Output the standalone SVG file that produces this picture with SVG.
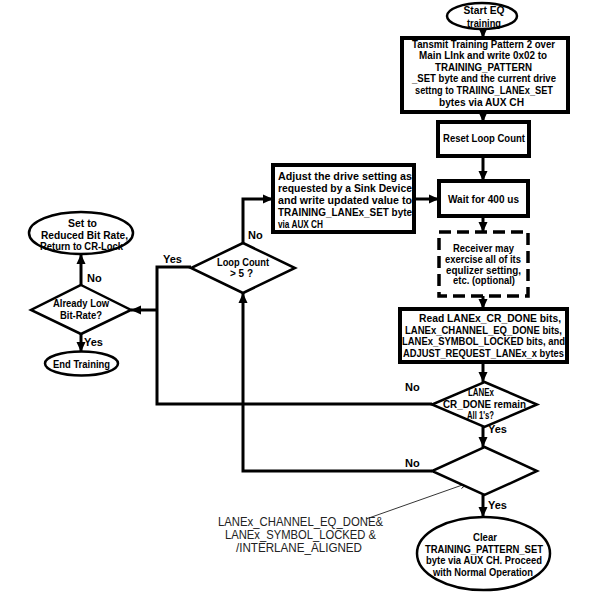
<svg xmlns="http://www.w3.org/2000/svg" width="597" height="596" viewBox="0 0 597 596">
<style>
.b{font-family:"Liberation Sans",Arial,sans-serif;font-weight:bold;font-size:11px;text-anchor:middle;fill:#000}
.l{font-family:"Liberation Sans",Arial,sans-serif;font-weight:bold;font-size:11px;fill:#000}
.n{font-family:"Liberation Sans",Arial,sans-serif;font-size:12px;text-anchor:middle;fill:#222}
.box{fill:#fff;stroke:#000;stroke-width:4}
.dash{fill:#fff;stroke:#000;stroke-width:3.5;stroke-dasharray:12 6}
.sh{fill:#fff;stroke:#000;stroke-width:2.5}
.c{fill:none;stroke:#000;stroke-width:3}
.t{fill:none;stroke:#000;stroke-width:0.8}
</style>
<defs>
<marker id="ah" markerUnits="userSpaceOnUse" markerWidth="10" markerHeight="10" viewBox="0 0 10 10" refX="10" refY="5" orient="auto">
<path d="M0,0.5 L10,5 L0,9.5 Z" fill="#000"/>
</marker>
<marker id="oa" markerUnits="userSpaceOnUse" markerWidth="8" markerHeight="8" viewBox="0 0 8 8" refX="8" refY="4" orient="auto">
<path d="M0,1 L8,4 L0,7" fill="none" stroke="#000" stroke-width="0.8"/>
</marker>
</defs>
<rect width="597" height="596" fill="#fff"/>

<g id="connectors">
<path class="c" d="M483,29 V38" marker-end="url(#ah)"/>
<path class="c" d="M483,112 V122" marker-end="url(#ah)"/>
<path class="c" d="M483,156 V181" marker-end="url(#ah)"/>
<path class="c" d="M483,216 V232" marker-end="url(#ah)"/>
<path class="c" d="M483,296 V309" marker-end="url(#ah)"/>
<path class="c" d="M483,362 V382" marker-end="url(#ah)"/>
<path class="c" d="M483,427 V447" marker-end="url(#ah)"/>
<path class="c" d="M483,495 V517" marker-end="url(#ah)"/>
<path class="c" d="M432,404 H157 V310"/>
<path class="c" d="M191,267 H157 V310"/>
<path class="c" d="M157,310 H131" marker-end="url(#ah)"/>
<path class="c" d="M432,471 H243 V293" marker-end="url(#ah)"/>
<path class="c" d="M243,243 V199 H273" marker-end="url(#ah)"/>
<path class="c" d="M414,199 H439" marker-end="url(#ah)"/>
<path class="c" d="M81,285 V254" marker-end="url(#ah)"/>
<path class="c" d="M81,334 V352" marker-end="url(#ah)"/>
<path class="t" d="M366,519 L468,483" marker-end="url(#oa)"/>
<text class="l" x="87" y="282">No</text>
<text class="l" x="84" y="346">Yes</text>
<text class="l" x="163" y="263">Yes</text>
<text class="l" x="248" y="239">No</text>
<text class="l" x="405" y="391">No</text>
<text class="l" x="488" y="433">Yes</text>
<text class="l" x="405" y="467">No</text>
<text class="l" x="488" y="509">Yes</text>
</g>

<g id="start">
<ellipse class="sh" cx="482" cy="16" rx="35" ry="13"/>
<text class="b" x="484" y="14" textLength="41" lengthAdjust="spacingAndGlyphs">Start EQ</text>
<text class="b" x="484" y="27" textLength="34" lengthAdjust="spacingAndGlyphs">training</text>
</g>

<g id="transmit">
<rect class="box" x="402" y="38" width="166" height="74"/>
<text class="b" x="483.5" y="47.5" textLength="143" lengthAdjust="spacingAndGlyphs">Tansmit Training Pattern 2 over</text>
<text class="b" x="483" y="59" textLength="128" lengthAdjust="spacingAndGlyphs">Main LInk and write 0x02 to</text>
<text class="b" x="483.5" y="70.5" textLength="97" lengthAdjust="spacingAndGlyphs">TRAINING_PATTERN</text>
<text class="b" x="484" y="82" textLength="144" lengthAdjust="spacingAndGlyphs">_SET byte and the current drive</text>
<text class="b" x="484" y="94" textLength="138" lengthAdjust="spacingAndGlyphs">settng to TRAIING_LANEx_SET</text>
<text class="b" x="481.5" y="106" textLength="85" lengthAdjust="spacingAndGlyphs">bytes via AUX CH</text>
</g>

<g id="reset">
<rect class="box" x="438" y="122" width="91" height="34"/>
<text class="b" x="484" y="142" textLength="82" lengthAdjust="spacingAndGlyphs">Reset Loop Count</text>
</g>

<g id="wait">
<rect class="box" x="439" y="181" width="89" height="35"/>
<text class="b" x="483.5" y="203" textLength="71" lengthAdjust="spacingAndGlyphs">Wait for 400 us</text>
</g>

<g id="receiver">
<rect class="dash" x="439" y="232" width="89" height="64"/>
<text class="b" x="483.5" y="252" textLength="61" lengthAdjust="spacingAndGlyphs">Receiver may</text>
<text class="b" x="483" y="262.5" textLength="76" lengthAdjust="spacingAndGlyphs">exercise all of its</text>
<text class="b" x="483.5" y="273.5" textLength="75" lengthAdjust="spacingAndGlyphs">equlizer setting,</text>
<text class="b" x="484" y="284" textLength="62" lengthAdjust="spacingAndGlyphs">etc. (optional)</text>
</g>

<g id="read">
<rect class="box" x="400" y="309" width="167" height="53"/>
<text class="b" x="490" y="322" textLength="142" lengthAdjust="spacingAndGlyphs">Read LANEx_CR_DONE bits,</text>
<text class="b" x="483.5" y="333.5" textLength="157" lengthAdjust="spacingAndGlyphs">LANEx_CHANNEL_EQ_DONE bits,</text>
<text class="b" x="483.5" y="345" textLength="163" lengthAdjust="spacingAndGlyphs">LANEx_SYMBOL_LOCKED bits, and</text>
<text class="b" x="483.5" y="356.5" textLength="161" lengthAdjust="spacingAndGlyphs">ADJUST_REQUEST_LANEx_x bytes</text>
</g>

<g id="crdone">
<polygon class="sh" points="484.5,382 537,404.5 484.5,427 432,404.5"/>
<text class="b" x="481" y="396" textLength="26" lengthAdjust="spacingAndGlyphs">LANEx</text>
<text class="b" x="484.5" y="407.5" textLength="83" lengthAdjust="spacingAndGlyphs">CR_DONE remain</text>
<text class="b" x="480.5" y="419" textLength="27" lengthAdjust="spacingAndGlyphs">All 1's?</text>
</g>

<g id="eqdone">
<polygon class="sh" points="484.5,447 537,471 484.5,495 432,471"/>
</g>

<g id="clear">
<ellipse class="sh" cx="483.5" cy="553.5" rx="66.5" ry="36.5"/>
<text class="b" x="485" y="541" textLength="24" lengthAdjust="spacingAndGlyphs">Clear</text>
<text class="b" x="484" y="552.5" textLength="118" lengthAdjust="spacingAndGlyphs">TRAINING_PATTERN_SET</text>
<text class="b" x="484" y="564" textLength="116" lengthAdjust="spacingAndGlyphs">byte via AUX CH. Proceed</text>
<text class="b" x="483" y="575.5" textLength="100" lengthAdjust="spacingAndGlyphs">with Normal Operation</text>
</g>

<g id="adjust">
<rect class="box" x="273" y="165" width="141" height="67"/>
<text class="l" x="278" y="180" textLength="134" lengthAdjust="spacingAndGlyphs">Adjust the drive setting as</text>
<text class="l" x="278" y="192" textLength="134" lengthAdjust="spacingAndGlyphs">requested by a Sink Device</text>
<text class="l" x="278" y="204" textLength="134" lengthAdjust="spacingAndGlyphs">and write updated value to</text>
<text class="l" x="278" y="216" textLength="134" lengthAdjust="spacingAndGlyphs">TRAINING_LANEx_SET  byte</text>
<text class="l" x="278" y="227.5" textLength="45" lengthAdjust="spacingAndGlyphs">via AUX CH</text>
</g>

<g id="loopcount">
<polygon class="sh" points="243,243 295,268 243,293 191,268"/>
<text class="b" x="243" y="266" textLength="52" lengthAdjust="spacingAndGlyphs">Loop Count</text>
<text class="b" x="241.5" y="277" textLength="23" lengthAdjust="spacingAndGlyphs">&gt; 5 ?</text>
</g>

<g id="lowrate">
<polygon class="sh" points="81,285 131,310 81,334 31,310"/>
<text class="b" x="81" y="307" textLength="56" lengthAdjust="spacingAndGlyphs">Already Low</text>
<text class="b" x="81" y="319" textLength="42" lengthAdjust="spacingAndGlyphs">Bit-Rate?</text>
</g>

<g id="setrate">
<ellipse class="sh" cx="81" cy="233" rx="52" ry="21"/>
<text class="b" x="82.5" y="227" textLength="29" lengthAdjust="spacingAndGlyphs">Set to</text>
<text class="b" x="84.5" y="238.5" textLength="87" lengthAdjust="spacingAndGlyphs">Reduced Bit Rate,</text>
<text class="b" x="81.5" y="249.5" textLength="83" lengthAdjust="spacingAndGlyphs">Return to CR-Lock</text>
</g>

<g id="endtraining">
<ellipse class="sh" cx="81.5" cy="363.5" rx="36.5" ry="12"/>
<text class="b" x="81.5" y="367.5" textLength="57" lengthAdjust="spacingAndGlyphs">End Training</text>
</g>

<g id="note">
<text class="n" x="300.5" y="526" textLength="165" lengthAdjust="spacingAndGlyphs">LANEx_CHANNEL_EQ_DONE&amp;</text>
<text class="n" x="300.5" y="539" textLength="151" lengthAdjust="spacingAndGlyphs">LANEx_SYMBOL_LOCKED &amp;</text>
<text class="n" x="299" y="552" textLength="126" lengthAdjust="spacingAndGlyphs">/INTERLANE_ALIGNED</text>
</g>
</svg>
